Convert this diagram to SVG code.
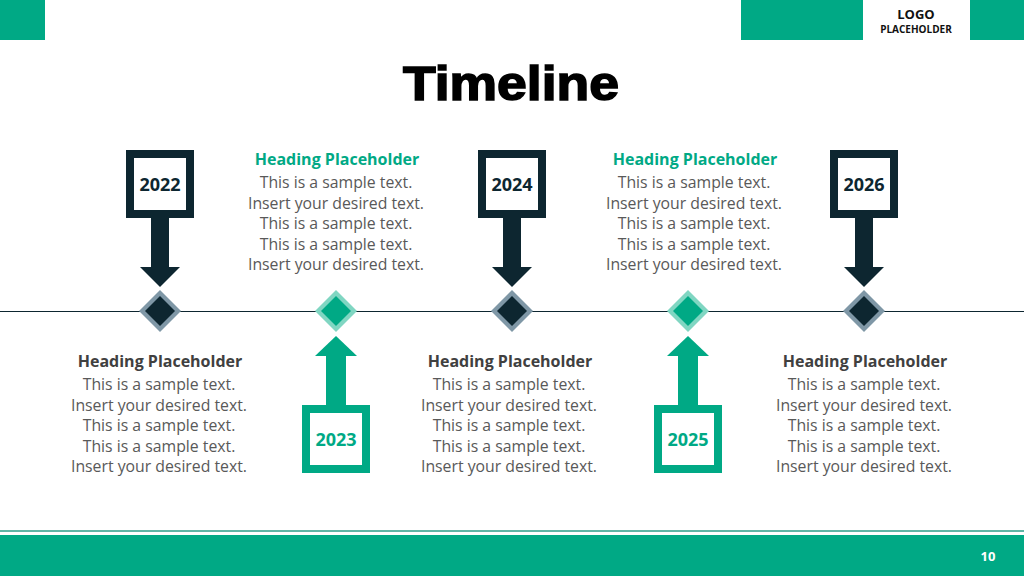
<svg xmlns="http://www.w3.org/2000/svg" width="1024" height="576" viewBox="0 0 1024 576">
<style>
.g{fill:#00a985}.d{fill:#0d2630}.w{fill:#fff}
.yr{font-family:"Open Sans","Noto Sans",sans-serif;font-weight:700;font-size:18px;text-anchor:middle}
.hd{font-family:"Open Sans","Noto Sans",sans-serif;font-weight:700;font-size:16px;text-anchor:middle}
.tx{font-family:"Open Sans","Noto Sans",sans-serif;font-size:15.8px;fill:#595959;text-anchor:middle}
</style>
<defs>
<g id="down">
<rect x="-34" y="150" width="68" height="68" class="d"/>
<rect x="-26" y="158" width="52" height="52" class="w"/>
<rect x="-9" y="217" width="18" height="51" class="d"/>
<polygon points="-20,267 20,267 0,287" class="d"/>
<polygon points="0,290 21,311 0,332 -21,311" fill="#7f97a6"/>
<polygon points="0,296 15,311 0,326 -15,311" class="d"/>
</g>
<g id="up">
<polygon points="0,290 21,311 0,332 -21,311" fill="#80d6c2"/>
<polygon points="0,296 15,311 0,326 -15,311" class="g"/>
<polygon points="0,336 -21,356 21,356" class="g"/>
<rect x="-10" y="355" width="20" height="51" class="g"/>
<rect x="-34" y="405" width="68" height="68" class="g"/>
<rect x="-26" y="413" width="52" height="52" class="w"/>
</g>
</defs>
<rect width="1024" height="576" fill="#fff"/>
<g id="header">
<rect x="0" y="0" width="45" height="40" class="g"/>
<rect x="741" y="0" width="122" height="40" class="g"/>
<rect x="970" y="0" width="54" height="40" class="g"/>
<text x="916" y="19" font-family="'Open Sans','Noto Sans',sans-serif" font-weight="700" font-size="13" text-anchor="middle" fill="#111">LOGO</text>
<text x="916" y="33" font-family="'Open Sans','Noto Sans',sans-serif" font-weight="700" font-size="10" text-anchor="middle" fill="#111">PLACEHOLDER</text>
</g>
<text id="title" x="511" y="100" font-family="'Liberation Sans',Arial,sans-serif" font-weight="700" font-size="49" text-anchor="middle" fill="#000" stroke="#000" stroke-width="1.6" textLength="216" lengthAdjust="spacingAndGlyphs">Timeline</text>
<g id="connectors">
<line x1="0" y1="311.5" x2="1024" y2="311.5" stroke="#0d2630" stroke-width="1"/>
</g>
<g id="m2022"><use href="#down" x="160"/><text class="yr d" x="160" y="191">2022</text></g>
<g id="m2023"><use href="#up" x="336"/><text class="yr g" x="336" y="446">2023</text></g>
<g id="m2024"><use href="#down" x="512"/><text class="yr d" x="512" y="191">2024</text></g>
<g id="m2025"><use href="#up" x="688"/><text class="yr g" x="688" y="446">2025</text></g>
<g id="m2026"><use href="#down" x="864"/><text class="yr d" x="864" y="191">2026</text></g>
<g id="t2022">
<text class="hd" x="160" y="367" fill="#404040">Heading Placeholder</text>
<text class="tx" x="159" y="390">This is a sample text.</text>
<text class="tx" x="159" y="410.5">Insert your desired text.</text>
<text class="tx" x="159" y="431">This is a sample text.</text>
<text class="tx" x="159" y="451.5">This is a sample text.</text>
<text class="tx" x="159" y="472">Insert your desired text.</text>
</g>
<g id="t2023">
<text class="hd" x="337" y="165" fill="#00a985">Heading Placeholder</text>
<text class="tx" x="336" y="188">This is a sample text.</text>
<text class="tx" x="336" y="208.5">Insert your desired text.</text>
<text class="tx" x="336" y="229">This is a sample text.</text>
<text class="tx" x="336" y="249.5">This is a sample text.</text>
<text class="tx" x="336" y="270">Insert your desired text.</text>
</g>
<g id="t2024">
<text class="hd" x="510" y="367" fill="#404040">Heading Placeholder</text>
<text class="tx" x="509" y="390">This is a sample text.</text>
<text class="tx" x="509" y="410.5">Insert your desired text.</text>
<text class="tx" x="509" y="431">This is a sample text.</text>
<text class="tx" x="509" y="451.5">This is a sample text.</text>
<text class="tx" x="509" y="472">Insert your desired text.</text>
</g>
<g id="t2025">
<text class="hd" x="695" y="165" fill="#00a985">Heading Placeholder</text>
<text class="tx" x="694" y="188">This is a sample text.</text>
<text class="tx" x="694" y="208.5">Insert your desired text.</text>
<text class="tx" x="694" y="229">This is a sample text.</text>
<text class="tx" x="694" y="249.5">This is a sample text.</text>
<text class="tx" x="694" y="270">Insert your desired text.</text>
</g>
<g id="t2026">
<text class="hd" x="865" y="367" fill="#404040">Heading Placeholder</text>
<text class="tx" x="864" y="390">This is a sample text.</text>
<text class="tx" x="864" y="410.5">Insert your desired text.</text>
<text class="tx" x="864" y="431">This is a sample text.</text>
<text class="tx" x="864" y="451.5">This is a sample text.</text>
<text class="tx" x="864" y="472">Insert your desired text.</text>
</g>
<g id="footer">
<line x1="0" y1="531" x2="1024" y2="531" stroke="#2a9c88" stroke-width="1.5"/>
<rect x="0" y="535" width="1024" height="41" class="g"/>
<text x="988" y="561" font-family="'Open Sans','Noto Sans',sans-serif" font-weight="700" font-size="13" text-anchor="middle" fill="#fff">10</text>
</g>
</svg>
